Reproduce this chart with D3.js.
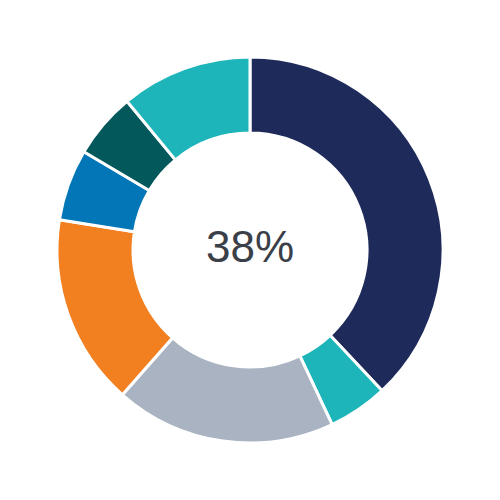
<!DOCTYPE html>
<html>
<head>
<meta charset="utf-8">
<script src="https://cdn.jsdelivr.net/npm/d3@7"></script>
<style>
  html, body { margin: 0; padding: 0; background: #fff; }
</style>
</head>
<body>
<svg id="chart" width="500" height="500"></svg>
<script>
// slice shares, clockwise from 12 o'clock
const labels = ["A", "B", "C", "D", "E", "F", "G"];
const values = [38, 5, 18.5, 16, 6, 5.5, 11];
const colors = ["#1e2b5a", "#1db5b9", "#a9b3c2", "#f27f20", "#0276b7", "#03585b", "#1db5b9"];
const centerLabel = "38%";

const svg = d3.select("#chart");
const cx = 250, cy = 250;
const outer = 193, inner = 117;

const pie = d3.pie().sort(null).value((d) => d.v);
const arc = d3.arc().innerRadius(inner).outerRadius(outer);

const g = svg.append("g").attr("transform", `translate(${cx},${cy})`);

g.selectAll("path.slice")
  .data(pie(labels.map((l, i) => ({ l, v: values[i], c: colors[i] }))))
  .enter()
  .append("path")
  .attr("class", "slice")
  .attr("d", arc)
  .attr("fill", (d) => d.data.c)
  .attr("stroke", "#fff")
  .attr("stroke-width", 3);

// baseline at the bottom of the digits (~y 262)
g.append("text")
  .attr("text-anchor", "middle")
  .attr("y", 12)
  .attr("font-family", "Liberation Sans, Arial, sans-serif")
  .attr("font-size", 44)
  .attr("fill", "#3b4048")
  .text(centerLabel);
</script>
</body>
</html>
